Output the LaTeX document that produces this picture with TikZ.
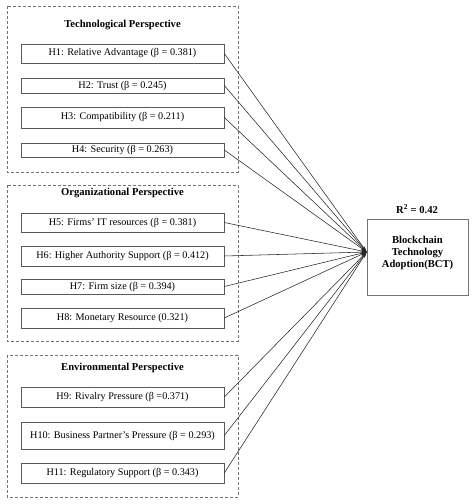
\documentclass[tikz,border=0pt]{standalone}
\usepackage{fontspec}
\setmainfont{Liberation Serif}
\usetikzlibrary{arrows.meta}
\tikzset{hyp/.style={draw=black!65, line width=0.6pt, minimum width=203pt, inner sep=0pt, font=\fontsize{10.2}{12}\selectfont},
  group/.style={draw=black!55, densely dashed, line width=0.5pt},
  grouptitle/.style={font=\bfseries\fontsize{10.6}{12}\selectfont},
  link/.style={black!85, line width=0.55pt, -{Stealth[length=6pt,width=3pt]}}}

\begin{document}
\begin{tikzpicture}[x=1pt,y=-1pt]
   \useasboundingbox (0,0) rectangle (474,504);
   % technological
   \draw[group] (7,6) rectangle (238,172);
   \node[grouptitle] (tech) at (122.5,25) {Technological Perspective};
   \node[hyp, minimum height=19pt] (h1) at (122.5, 53.5) {H1: Relative Advantage (β = 0.381)};
   \node[hyp, minimum height=15pt] (h2) at (122.5, 85.5) {H2: Trust (β = 0.245)};
   \node[hyp, minimum height=21pt] (h3) at (122.5,117.5) {H3: Compatibility (β = 0.211)};
   \node[hyp, minimum height=14pt] (h4) at (122.5,150.0) {H4: Security (β = 0.263)};
   % organizational
   \draw[group] (7,185) rectangle (238,341);
   \node[grouptitle] (org) at (122.5,193) {Organizational Perspective};
   \node[hyp, minimum height=19pt] (h5) at (122.5,222.5) {H5: Firms' IT resources (β = 0.381)};
   \node[hyp, minimum height=20pt] (h6) at (122.5,256.0) {H6: Higher Authority Support (β = 0.412)};
   \node[hyp, minimum height=15pt] (h7) at (122.5,286.5) {H7: Firm size (β = 0.394)};
   \node[hyp, minimum height=20pt] (h8) at (122.5,318.0) {H8: Monetary Resource (0.321)};
   % environmental
   \draw[group] (7,355) rectangle (238,497);
   \node[grouptitle] (env) at (122.5,368) {Environmental Perspective};
   \node[hyp, minimum height=20pt] (h9)  at (122.5,397.0) {H9: Rivalry Pressure (β =0.371)};
   \node[hyp, minimum height=27pt] (h10) at (122.5,435.5) {H10: Business Partner’s Pressure (β = 0.293)};
   \node[hyp, minimum height=20pt] (h11) at (122.5,473.0) {H11: Regulatory Support (β = 0.343)};
   % outcome
   \node[draw=black!55, line width=0.6pt, minimum width=101pt, minimum height=76pt] (bct) at (417.5,257) {};
   \node[align=center, font=\bfseries\fontsize{10.6}{11.8}\selectfont] (bcttext) at (417.5,253)
        {Blockchain\\Technology\\Adoption(BCT)};
   \node[font=\bfseries\fontsize{10.6}{12}\selectfont] (rsq) at (417,209) {R\textsuperscript{2} = 0.42};
   \coordinate (hub) at (bct.west |- 0,252);
   \foreach \h in {h1,h2,h3,h4,h5,h6,h7,h8,h9,h10,h11}
     \draw[link] (\h.east) -- (hub);
\end{tikzpicture}
\end{document}
